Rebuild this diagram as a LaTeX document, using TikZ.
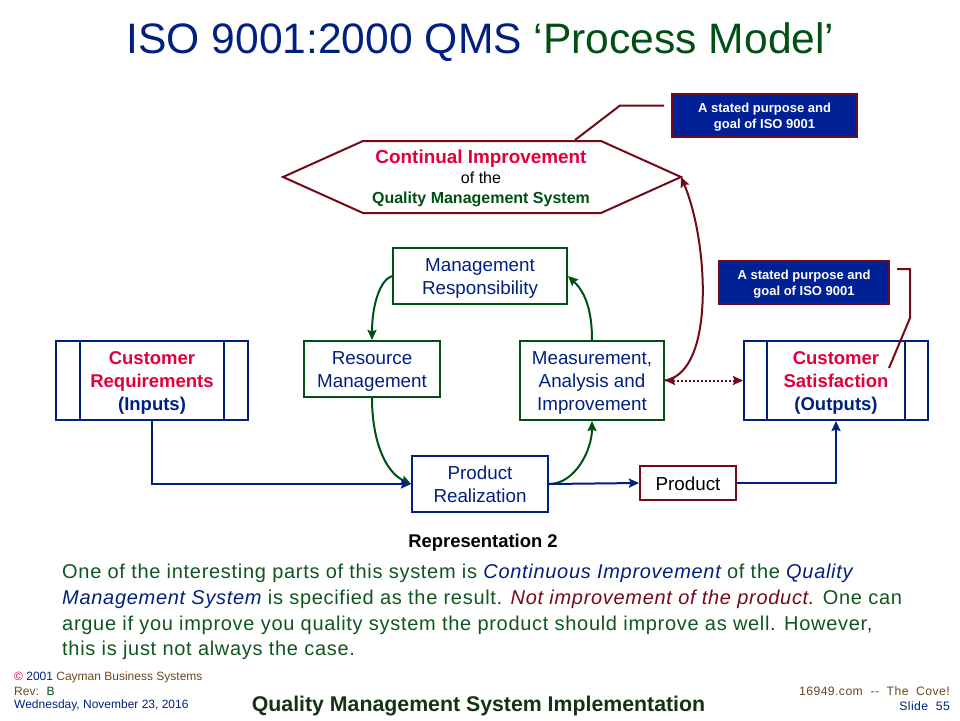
\documentclass[tikz,border=0pt]{standalone}
\usepackage{fontspec}
\setmainfont{Liberation Sans}
\newfontfamily\spaced[LetterSpace=3.5]{Liberation Sans}
\usetikzlibrary{arrows.meta}
\definecolor{navy}{RGB}{0,32,128}
\definecolor{boxblue}{RGB}{0,32,150}
\definecolor{leaf}{RGB}{0,80,20}
\definecolor{maroon}{RGB}{115,10,25}
\definecolor{crimson}{RGB}{225,0,60}
\definecolor{bodygreen}{RGB}{15,85,30}
\definecolor{darkgreen}{RGB}{20,50,20}
\definecolor{brownish}{RGB}{110,70,30}
\newcommand{\tallline}{\rule{0pt}{20.4pt}}
\newcommand{\tallsmall}{\rule{0pt}{14.3pt}}
\tikzset{
  flow/.style={rectangle, draw=leaf, line width=2, align=center, font=\fontsize{18.8}{23}\selectfont, text=navy, inner sep=0, execute at end node={\rule[-6pt]{0pt}{6pt}}},
  io/.style={rectangle, draw=navy, line width=2, align=center, font=\fontsize{18.5}{23}\selectfont, inner sep=0, execute at end node={\rule[-6pt]{0pt}{6pt}}},
  purpose/.style={rectangle, draw=maroon, fill=boxblue, line width=2, align=center, text=white, font=\bfseries\fontsize{13}{16}\selectfont, inner sep=0, execute at end node={\rule[-4pt]{0pt}{4pt}}},
  greenline/.style={draw=leaf, line width=2, ->},
  blueline/.style={draw=navy, line width=2, ->},
  redline/.style={draw=maroon, line width=2},
  small/.style={font=\fontsize{12}{16}\selectfont, inner sep=0}
}
\begin{document}
\begin{tikzpicture}[x=1pt, y=-1pt, >={Stealth[length=10, width=9, inset=1.5]}]
  \useasboundingbox (0,0) rectangle (960,720);
  % heading
  \node[font=\fontsize{42.6}{46}\selectfont, inner sep=0] (title) at (480.5,42) {\textcolor{navy}{ISO 9001:2000 QMS} \textcolor{leaf}{‘Process Model’}};
  % hexagon
  \coordinate (hextip) at (681,177);
  \draw[redline] (283,177) -- (363,141) -- (601,141) -- (hextip) -- (601,213) -- (363,213) -- cycle;
  \node[align=center, inner sep=0, font=\fontsize{16}{20}\selectfont] (improve) at (481,178.5) {\textcolor{crimson}{\bfseries\fontsize{18.9}{21}\selectfont Continual Improvement}\\of the\\\textcolor{leaf}{\bfseries Quality Management System}};
  % callouts
  \node[purpose, minimum width=185, minimum height=43] (purpose1) at (764.5,115.5) {\tallsmall A stated purpose and\\goal of ISO 9001};
  \node[purpose, minimum width=170, minimum height=43] (purpose2) at (804,282.5) {\tallsmall A stated purpose and\\goal of ISO 9001};
  \coordinate (lead1a) at (575,140);
  \coordinate (lead1b) at (620,105.5);
  \coordinate (lead1c) at (664,105.5);
  \coordinate (lead2a) at (897,269);
  \coordinate (lead2b) at (910,269);
  \coordinate (lead2c) at (910,318);
  \coordinate (lead2d) at (889,368);
  \draw[redline] (lead1a) -- (lead1b) -- (lead1c);
  % process boxes
  \node[flow, minimum width=174, minimum height=56] (mgmt) at (480,276) {\tallline Management\\Responsibility};
  \node[flow, minimum width=136, minimum height=56] (resource) at (372,369) {\tallline Resource\\Management};
  \node[flow, minimum width=144, minimum height=79] (measure) at (592,380.5) {\tallline Measurement,\\Analysis and\\Improvement};
  \node[flow, draw=navy, minimum width=136, minimum height=56] (realize) at (480,484) {\tallline Product\\Realization};
  \node[flow, draw=maroon, text=black, minimum width=96, minimum height=34] (product) at (688,483) {\tallline Product};
  % customer boxes
  \node[io, minimum width=192, minimum height=79] (input) at (152,380.5) {\tallline\textcolor{crimson}{\bfseries Customer}\\\textcolor{crimson}{\bfseries Requirements}\\\textcolor{navy}{\bfseries (Inputs)}};
  \node[io, minimum width=184, minimum height=79] (output) at (836,380.5) {\tallline\textcolor{crimson}{\bfseries Customer}\\\textcolor{crimson}{\bfseries Satisfaction}\\\textcolor{navy}{\bfseries (Outputs)}};
  \draw[draw=navy, line width=2] (80,341) -- (80,420) (224,341) -- (224,420);
  \draw[draw=navy, line width=2] (767,341) -- (767,420) (905,341) -- (905,420);
  \draw[redline] (lead2a) -- (lead2b) -- (lead2c) -- (lead2d);
  % connectors
  \draw[greenline] (mgmt.west) .. controls (380,280) and (372,305) .. (resource.north);
  \draw[greenline] (resource.south) .. controls (372,440) and (385,472) .. (realize.west);
  \draw[greenline] (realize.east) .. controls (575,484) and (592,450) .. (measure.south);
  \draw[greenline] (measure.north) .. controls (592,310) and (585,292) .. (mgmt.east);
  \draw[blueline] (input.south) |- (realize.west);
  \draw[blueline] (realize.east) -- (product.west);
  \draw[blueline] (product.east) -| (output.south);
  \draw[redline, ->] (measure.east) .. controls (716,372) and (708,240) .. (hextip);
  \draw[redline, dash pattern=on 2pt off 2pt, <->] (measure.east) -- (output.west);
  % caption and text
  \node[font=\bfseries\fontsize{18.4}{22}\selectfont, inner sep=0] (caption) at (483,543) {Representation 2};
  \node[anchor=north west, align=left, inner sep=0, text=bodygreen, font=\spaced\fontsize{20}{25.7}\selectfont] (para) at (62,564) {One of the interesting parts of this system is \textcolor{navy}{\itshape Continuous Improvement} of the \textcolor{navy}{\itshape Quality}\\\textcolor{navy}{\itshape Management System} is specified as the result. \textcolor{maroon}{\itshape Not improvement of the product.} One can\\argue if you improve you quality system the product should improve as well. However,\\this is just not always the case.};
  % footer
  \node[small, anchor=west, text=brownish] (copy) at (14,677) {\textcolor{crimson}{©} \textcolor{navy}{2001} Cayman Business Systems};
  \node[small, anchor=west, text=brownish] (rev) at (14,691) {Rev: \ \textcolor{leaf}{B}};
  \node[small, anchor=west, text=navy] (date) at (14,705) {Wednesday, November 23, 2016};
  \node[font=\bfseries\fontsize{21.3}{24}\selectfont, text=darkgreen, inner sep=0] (footer) at (478.5,706) {Quality Management System Implementation};
  \node[small, anchor=east, text=brownish, font=\spaced\fontsize{12.2}{16}\selectfont] (site) at (950,691) {16949.com\ \ {-}{-}\ \ The\ \ Cove!};
  \node[small, anchor=east, text=navy, font=\spaced\fontsize{12.2}{16}\selectfont] (slide) at (950,706) {Slide\ \ 55};
\end{tikzpicture}
\end{document}
